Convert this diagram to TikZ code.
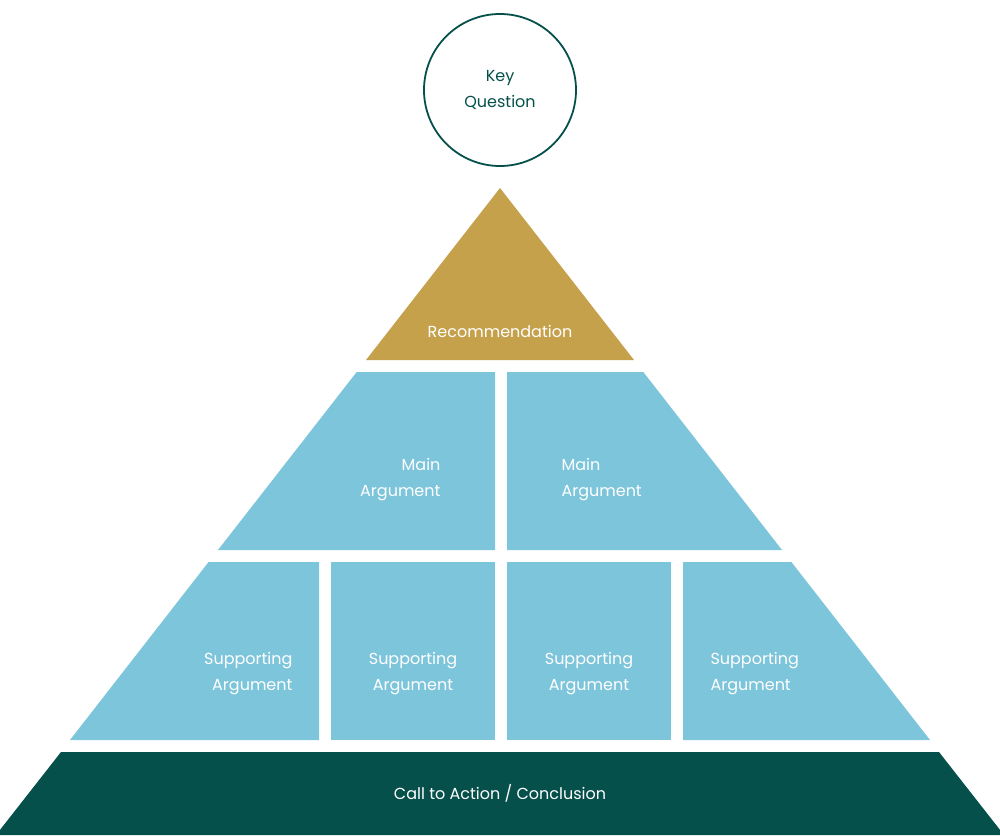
\documentclass[tikz,border=0pt]{standalone}
\usepackage{fontspec}
\setmainfont{Poppins}
\begin{document}
\begin{tikzpicture}[x=1pt,y=-1pt]
\definecolor{dg}{HTML}{05504A}
\definecolor{gold}{HTML}{C6A14B}
\definecolor{lb}{HTML}{7DC5DB}
\tikzset{txt/.style={font=\fontsize{16}{26}\selectfont, text=white, align=center},
 lbl/.style={fill=lb}}
\useasboundingbox (0,0) rectangle (1000,835);
\node[circle,draw=dg,line width=1.8pt,minimum size=152pt,font=\fontsize{16}{26}\selectfont,text=dg,align=center] (kq) at (500,90) {Key\\Question};
\fill[gold] (500,188) -- (634,360) -- (366,360) -- cycle;
\node[txt] (rec) at (500,331) {Recommendation};
\fill[lb] (356.7,372) -- (495,372) -- (495,550) -- (218,550) -- cycle;
\fill[lb] (507,372) -- (643.3,372) -- (782,550) -- (507,550) -- cycle;
\node[txt,align=right,anchor=east] (m1) at (444,480) {Main\\Argument};
\node[txt,align=left,anchor=west] (m2) at (558,480) {Main\\Argument};
\fill[lb] (208.6,562) -- (319,562) -- (319,740) -- (70,740) -- cycle;
\fill[lb] (331,562) rectangle (495,740);
\fill[lb] (507,562) rectangle (671,740);
\fill[lb] (683,562) -- (791.4,562) -- (930,740) -- (683,740) -- cycle;
\node[txt,align=right,anchor=east] (s1) at (296,674) {Supporting\\Argument};
\node[txt] (s2) at (413,674) {Supporting\\Argument};
\node[txt] (s3) at (589,674) {Supporting\\Argument};
\node[txt,align=left,anchor=west] (s4) at (707,674) {Supporting\\Argument};
\fill[dg] (61,752) -- (939,752) -- (1004,835) -- (-4,835) -- cycle;
\node[txt] (cta) at (500,793) {Call to Action / Conclusion};
\end{tikzpicture}
\end{document}
